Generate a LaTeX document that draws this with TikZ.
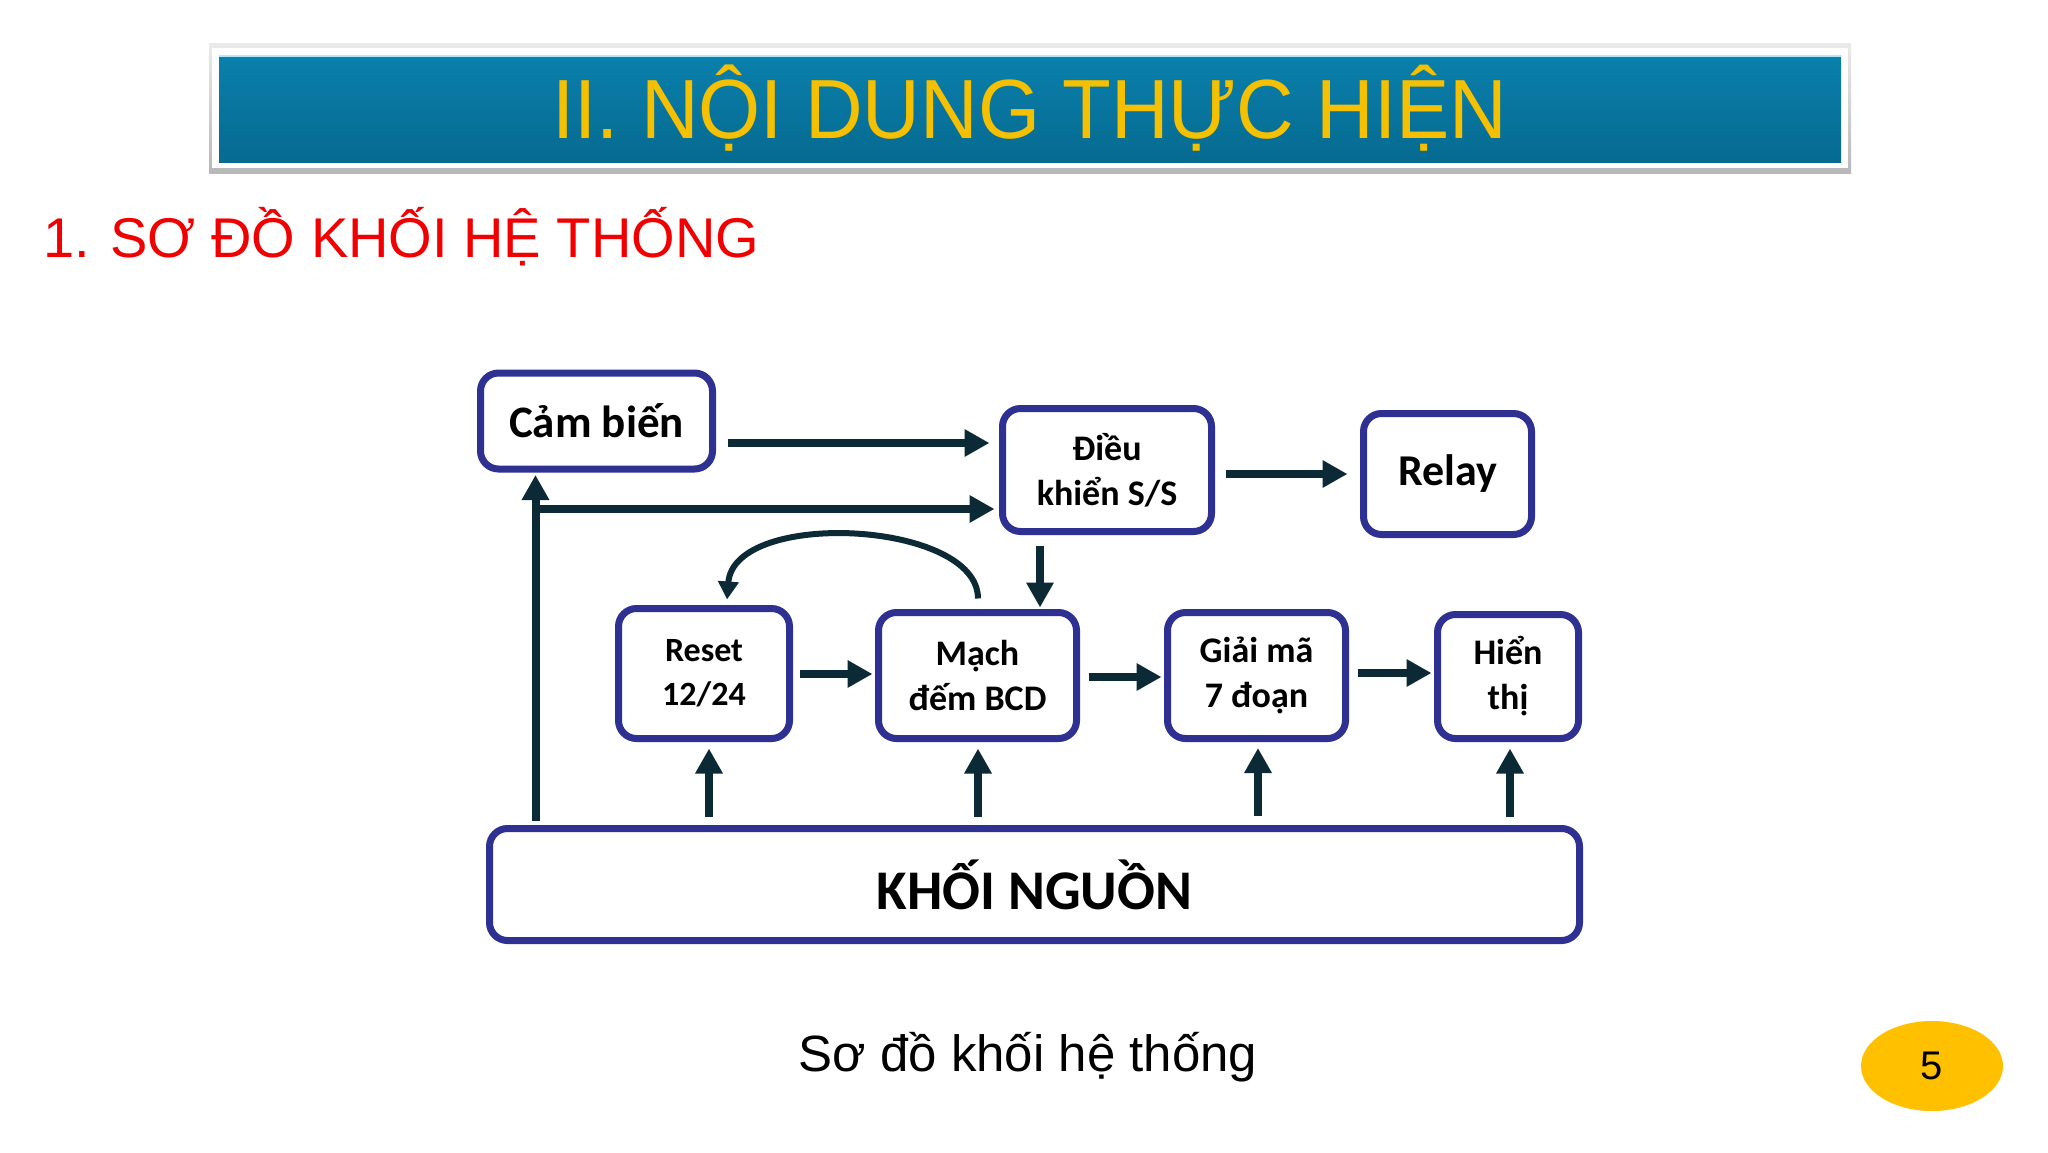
\documentclass[tikz,border=0pt]{standalone}
\usepackage{fontspec}
\setmainfont{Liberation Sans}
\newfontfamily\boxfont{Carlito}
\usetikzlibrary{arrows.meta,calc,shapes.geometric}
\definecolor{bord}{HTML}{2E3092}
\definecolor{arrc}{HTML}{0C2A36}
\definecolor{bannertop}{HTML}{0A80AC}
\definecolor{bannerbot}{HTML}{066A90}
\definecolor{titley}{HTML}{F5C000}
\definecolor{pagey}{HTML}{FFC000}
\definecolor{headred}{HTML}{F00000}
\begin{document}
\begin{tikzpicture}[x=1pt,y=-1pt,
  blk/.style={draw=bord, line width=7pt, rounded corners=18pt, fill=white, outer sep=0pt,
    align=center, inner sep=0pt, font=\boxfont\bfseries\fontsize{36}{45}\selectfont},
  arr/.style={draw=arrc, line width=8pt, -{Triangle[length=25pt,width=26pt]}},
  carr/.style={draw=arrc, line width=6pt, -{Triangle[length=18pt,width=20pt]}}]
\useasboundingbox (0,0) rectangle (2048,1152);
\fill[white] (0,0) rectangle (2048,1152);
% banner
\shade[top color=black!8, bottom color=black!28] (209,43) rectangle (1851,173);
\fill[white] (212,48) rectangle (1848,168);
\shade[top color=bannertop, bottom color=bannerbot] (219,55) rectangle (1841,162);
\draw[cyan!30!white, line width=1.5pt] (219,56) -- (1841,56);
\node[anchor=base, text=titley, font=\fontsize{84}{100}\selectfont, xscale=0.95] (title) at (1030,138) {II. NỘI DUNG THỰC HIỆN};
\node[anchor=base west, text=headred, font=\fontsize{56}{68}\selectfont, inner sep=0pt] (head) at (43,257) {1. SƠ ĐỒ KHỐI HỆ THỐNG};
% blocks
\node[blk, minimum width=232, minimum height=96, font=\boxfont\bfseries\fontsize{45}{54}\selectfont] (cam) at (596.5,421) {Cảm biến};
\node[blk, minimum width=209, minimum height=123] (dk) at (1107,470) {Điều\\khiển S/S};
\node[blk, minimum width=168, minimum height=121, font=\boxfont\bfseries\fontsize{44}{53}\selectfont] (relay) at (1447.5,474) {Relay};
\node[blk, minimum width=171, minimum height=130, font=\boxfont\bfseries\fontsize{34}{44}\selectfont] (reset) at (704,673.5) {Reset\\12/24};
\node[blk, minimum width=198, minimum height=126] (mach) at (977.5,675.5) {Mạch\\đếm BCD};
\node[blk, minimum width=178, minimum height=126] (gm) at (1256.5,675.5) {Giải mã\\7 đoạn};
\node[blk, minimum width=141, minimum height=124] (ht) at (1508,676.5) {Hiển\\thị};
\node[blk, minimum width=1090, minimum height=112, font=\boxfont\bfseries\fontsize{56}{66}\selectfont] (kn) at (1034.5,884.5) {KHỐI NGUỒN};
% connectors
\draw[arr] ($(cam.east)+(15,22)$) -- ($(dk.west)+(-13,-27)$);
\draw[arr, line cap=butt] ($(kn.north west)+(46,-8)$) -- ($(cam.south)+(-61,6)$);
\coordinate (jn) at ($(cam.south)+(-65,40)$);
\draw[arr] (jn) -- ($(dk.west)+(-8,39)$);
\draw[arr] ($(dk.east)+(14,4)$) -- ($(relay.west)+(-16,0)$);
\draw[arr] ($(dk.south)+(-67,14)$) -- ($(mach.north)+(62.5,-5)$);
\draw[carr] ($(mach.north)+(0.5,-14)$) .. controls ($(mach.north)+(0.5,-92)$) and ($(reset.north)+(30,-100)$) .. ($(reset.north)+(23,-9)$);
\draw[arr] ($(reset.east)+(10,0.5)$) -- ($(mach.west)+(-6,-1.5)$);
\draw[arr] ($(mach.east)+(12,1.5)$) -- ($(gm.west)+(-6,1.5)$);
\draw[arr] ($(gm.east)+(12,-2.5)$) -- ($(ht.west)+(-6,-3.5)$);
\draw[arr] ($(reset.south)+(5,78)$) -- ($(reset.south)+(5,10)$);
\draw[arr] ($(mach.south)+(0.5,78)$) -- ($(mach.south)+(0.5,10)$);
\draw[arr] ($(gm.south)+(1.5,77.5)$) -- ($(gm.south)+(1.5,9.5)$);
\draw[arr] ($(ht.south)+(2,78)$) -- ($(ht.south)+(2,10)$);
% caption and page number
\node[anchor=base, font=\fontsize{51}{60}\selectfont] (cap) at (1028,1071) {Sơ đồ khối hệ thống};
\node[ellipse, fill=pagey, minimum width=142, minimum height=90, inner sep=0pt, font=\fontsize{40}{48}\selectfont] (pg) at (1932,1066) {5};
\end{tikzpicture}
\end{document}
